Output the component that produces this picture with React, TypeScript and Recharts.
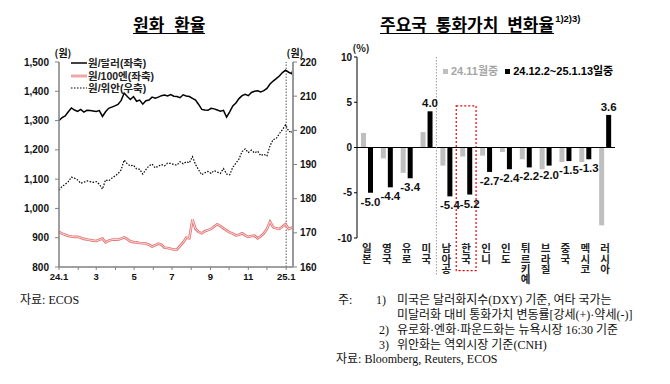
import {
  LineChart, Line, BarChart, Bar, XAxis, YAxis, Legend, LabelList, ReferenceLine, ReferenceArea,
} from "recharts"

const SANS = "'Liberation Sans', Arial, 'Noto Sans CJK KR', sans-serif"
const KR = "'Noto Sans CJK KR', 'Liberation Sans', sans-serif"
const SERIF = "'Liberation Serif', 'Times New Roman', 'Noto Sans CJK KR', serif"

// 원화 환율: 24.1.1 이후 경과일
const days = [
  0, 5, 10, 15, 20, 25, 30, 35, 40, 45, 50, 55, 60, 65, 70, 75, 80, 85, 90, 95,
  100, 105, 110, 115, 120, 125, 130, 135, 140, 145, 150, 155, 160, 165, 170, 175, 180, 185, 190, 195,
  200, 205, 210, 215, 220, 225, 230, 235, 240, 245, 250, 255, 260, 265, 270, 275, 280, 285, 290, 295,
  300, 305, 310, 315, 320, 325, 330, 335, 340, 345, 350, 355, 360, 365, 370, 375, 377,
]
const usdKrw = [
  1300, 1310, 1316, 1330, 1343, 1336, 1331, 1338, 1329, 1335, 1334, 1333, 1331, 1334, 1314, 1330, 1342, 1346, 1350, 1355,
  1368, 1394, 1382, 1372, 1382, 1366, 1370, 1356, 1368, 1370, 1380, 1376, 1380, 1385, 1387, 1384, 1389, 1383, 1382, 1378,
  1388, 1384, 1382, 1376, 1370, 1355, 1338, 1336, 1335, 1342, 1340, 1336, 1332, 1335, 1312, 1330, 1350, 1360, 1375, 1385,
  1390, 1385, 1396, 1400, 1402, 1398, 1402, 1410, 1425, 1435, 1443, 1452, 1464, 1472, 1465, 1460, 1474,
]
const jpyKrw = [
  920, 914, 910, 906, 904, 903, 903, 900, 896, 894, 892, 890, 889, 893, 897, 884, 890, 893, 894, 893,
  897, 901, 895, 888, 885, 884, 882, 881, 880, 876, 870, 874, 880, 876, 866, 865, 862, 860, 860, 872,
  884, 900, 898, 962, 930, 920, 915, 922, 926, 930, 938, 946, 940, 932, 925, 918, 914, 908, 910, 915,
  908, 903, 906, 907, 898, 905, 915, 930, 955, 936, 932, 930, 938, 946, 930, 934, 932,
]
const cnyKrw = [
  182.5, 183.6, 184.2, 185.0, 186.3, 186.0, 185.5, 184.5, 184.8, 185.2, 185.0, 184.8, 185.0, 184.2, 182.8, 185.5, 185.2, 186.0, 186.6, 187.3,
  188.4, 191.3, 190.2, 189.6, 189.8, 188.7, 188.6, 187.2, 188.5, 189.6, 190.1, 189.0, 189.5, 190.0, 189.6, 190.4, 190.3, 190.0, 189.8, 190.8,
  190.2, 190.8, 190.5, 192.3, 190.0, 188.4, 187.0, 187.6, 188.0, 187.4, 188.2, 187.8, 187.4, 188.8, 187.2, 187.0, 189.2, 190.4, 191.6, 193.8,
  194.6, 193.5, 194.2, 193.4, 193.9, 192.6, 193.0, 192.5, 195.5, 197.3, 197.6, 199.0, 200.2, 201.6, 199.8, 199.3, 200.6,
]
const monthTicks = [0, 31, 60, 91, 121, 152, 182, 213, 244, 274, 305, 335, 366]
const monthLabels = ["24.1", "", "3", "", "5", "", "7", "", "9", "", "11", "", "25.1"]
const leftTicks = [800, 900, 1000, 1100, 1200, 1300, 1400, 1500]
const rightTicks = [160, 170, 180, 190, 200, 210, 220]

// 주요국 통화가치 변화율(%)
const countries = ["일본", "영국", "유로", "미국", "남아공", "한국", "인니", "인도", "튀르키예", "브라질", "중국", "멕시코", "러시아"]
const chgNov = [1.6, -1.2, -2.8, 1.7, -2.0, -1.0, -0.9, -0.5, -1.3, -2.4, -1.6, -1.6, -8.6]
const chgRecent = [-5.0, -4.4, -3.4, 4.0, -5.4, -5.2, -2.7, -2.4, -2.2, -2.0, -1.5, -1.3, 3.6]
const pctTicks = [-10, -5, 0, 5, 10]

const rateData = days.map((t, i) => ({ t, usd: usdKrw[i], jpy: jpyKrw[i], cny: cnyKrw[i] }))
const fxData = countries.map((name, i) => ({ name, nov: chgNov[i], recent: chgRecent[i] }))

const tickStyle = { fontSize: 10, fill: "#111", fontFamily: SANS, fontWeight: 700 }
const JPY_OUTER = "#e57373"
const JPY_INNER = "#fde6e6"

function UnitLabel({ viewBox, text, side }: any) {
  const { x, y, width } = viewBox
  const cx = side === "left" ? x + width + 4 : x + 2
  return (
    <text x={cx} y={y - 5} textAnchor="middle" fontSize={10} fontWeight={700} fill="#111" fontFamily={KR}>
      {text}
    </text>
  )
}

function LineLegend() {
  const row = (sample: JSX.Element, label: string) => (
    <div style={{ display: "flex", alignItems: "center", height: 12.5 }}>
      <svg width={16} height={6} style={{ marginRight: 1 }}>{sample}</svg>
      <span>{label}</span>
    </div>
  )
  return (
    <div style={{ fontFamily: SANS, fontSize: 10.5, fontWeight: 700, color: "#222", whiteSpace: "nowrap", lineHeight: "12px" }}>
      {row(<line x1={0} x2={16} y1={3} y2={3} stroke="#000" strokeWidth={1.5} />, "원/달러(좌축)")}
      {row(
        <g>
          <line x1={0} x2={16} y1={3} y2={3} stroke={JPY_OUTER} strokeWidth={2.6} />
          <line x1={0} x2={16} y1={3} y2={3} stroke={JPY_INNER} strokeWidth={0.9} />
        </g>,
        "원/100엔(좌축)",
      )}
      {row(<line x1={0} x2={16} y1={3} y2={3} stroke="#000" strokeWidth={1.2} strokeDasharray="1.5 1.5" />, "원/위안(우축)")}
    </div>
  )
}

function RateChart() {
  return (
    <LineChart width={335} height={297} data={rateData} margin={{ top: 62, right: 0, bottom: 0, left: 0 }}>
      <XAxis
        dataKey="t"
        type="number"
        domain={[0, 377]}
        ticks={monthTicks}
        interval={0}
        tickFormatter={(v) => monthLabels[monthTicks.indexOf(v)] ?? ""}
        tick={{ ...tickStyle, fontSize: 9.5 }}
        axisLine={{ stroke: "#808080", strokeWidth: 1.5 }}
        tickLine={{ stroke: "#808080" }}
        tickSize={3}
        tickMargin={3}
        height={30}
      />
      <YAxis
        yAxisId="left"
        domain={[800, 1500]}
        ticks={leftTicks}
        width={59}
        tick={tickStyle}
        tickFormatter={(v) => v.toLocaleString("en-US")}
        axisLine={{ stroke: "#808080", strokeWidth: 1.5 }}
        tickLine={{ stroke: "#808080" }}
        tickSize={4}
        tickMargin={6}
        label={<UnitLabel text="(원)" side="left" />}
      />
      <YAxis
        yAxisId="right"
        orientation="right"
        domain={[160, 220]}
        ticks={rightTicks}
        width={42}
        tick={tickStyle}
        axisLine={{ stroke: "#999", strokeWidth: 2 }}
        tickLine={{ stroke: "#808080" }}
        tickSize={4}
        tickMargin={3}
        label={<UnitLabel text="(원)" side="right" />}
      />
      <ReferenceLine yAxisId="left" x={366} stroke="#555" strokeDasharray="1.5 1.5" />
      <Line yAxisId="left" dataKey="usd" stroke="#000" strokeWidth={1.5} dot={false} isAnimationActive={false} />
      <Line yAxisId="left" dataKey="jpy" stroke={JPY_OUTER} strokeWidth={2.6} dot={false} isAnimationActive={false} />
      <Line yAxisId="left" dataKey="jpy" stroke={JPY_INNER} strokeWidth={0.9} dot={false} isAnimationActive={false} legendType="none" />
      <Line yAxisId="right" dataKey="cny" stroke="#000" strokeWidth={1.2} strokeDasharray="1.5 1.5" dot={false} isAnimationActive={false} />
      <Legend
        verticalAlign="middle"
        align="center"
        layout="horizontal"
        wrapperStyle={{ top: 57, left: 71, width: "auto" }}
        content={<LineLegend />}
      />
    </LineChart>
  )
}

// 국가명은 세로쓰기
function CountryTick({ x, y, payload }: any) {
  return (
    <text
      x={x}
      y={y + 5}
      fontSize={10.5}
      fontWeight={700}
      fill="#222"
      fontFamily={KR}
      style={{ writingMode: "vertical-rl", textOrientation: "upright", letterSpacing: -0.2 }}
    >
      {payload.value}
    </text>
  )
}

function BarValueLabel(props: any) {
  const vb = props.viewBox ?? props
  const { x, y, width, height } = vb
  const value = Number(props.value)
  const top = Math.min(y, y + height)
  const bottom = Math.max(y, y + height)
  return (
    <text
      x={x + width / 2}
      y={value >= 0 ? top - 4 : bottom + 13}
      textAnchor="middle"
      fontSize={11.5}
      fontWeight={700}
      fill="#111"
      fontFamily={SANS}
    >
      {value.toFixed(1)}
    </text>
  )
}

function BarLegend() {
  return (
    <div style={{ display: "flex", alignItems: "center", whiteSpace: "nowrap", fontFamily: SANS, fontSize: 11, fontWeight: 700, lineHeight: "14px" }}>
      <span style={{ width: 5, height: 5, background: "#bfbfbf", marginRight: 3 }} />
      <span style={{ color: "#a6a6a6" }}>24.11월중</span>
      <span style={{ width: 5, height: 5, background: "#000", marginLeft: 7, marginRight: 3 }} />
      <span style={{ color: "#000" }}>24.12.2~25.1.13일중</span>
    </div>
  )
}

function FxChart() {
  return (
    <BarChart width={340} height={290} data={fxData} margin={{ top: 57, right: 55, bottom: 0, left: 0 }} barGap={2}>
      <XAxis dataKey="name" interval={0} axisLine={false} tickLine={false} tickSize={0} tickMargin={0} height={52} tick={<CountryTick />} />
      <YAxis
        domain={[-10, 10]}
        ticks={pctTicks}
        width={27}
        tick={tickStyle}
        axisLine={{ stroke: "#000" }}
        tickLine={{ stroke: "#000" }}
        tickSize={3}
        tickMargin={2}
        label={<UnitLabel text="(%)" side="left" />}
      />
      <ReferenceLine y={0} stroke="#000" />
      <ReferenceLine
        segment={[{ x: "남아공", y: 10 }, { x: "남아공", y: -14.2 }]}
        position="start"
        ifOverflow="visible"
        stroke="#999"
        strokeDasharray="1.5 1.5"
      />
      <ReferenceArea
        x1="한국"
        x2="한국"
        y1={-13.6}
        y2={4.6}
        ifOverflow="visible"
        fill="none"
        stroke="#e00"
        strokeWidth={1.2}
        strokeDasharray="2 2"
      />
      <Bar dataKey="nov" fill="#bfbfbf" barSize={5} isAnimationActive={false} />
      <Bar dataKey="recent" fill="#000" barSize={5} isAnimationActive={false}>
        <LabelList dataKey="recent" content={BarValueLabel} />
      </Bar>
      <Legend
        verticalAlign="middle"
        align="center"
        layout="horizontal"
        wrapperStyle={{ top: 64, left: 113, width: "auto" }}
        content={<BarLegend />}
      />
    </BarChart>
  )
}

const note = { position: "absolute" as const, fontFamily: SERIF, fontSize: 12, lineHeight: "15px", color: "#111", whiteSpace: "nowrap" as const }

export default function App() {
  return (
    <div style={{ position: "absolute", left: 0, top: 0, width: 670, height: 384, background: "#fff", overflow: "hidden" }}>
      <div style={{ position: "absolute", left: 0, top: 0 }}>
        <RateChart />
      </div>
      <div style={{ position: "absolute", left: 330, top: 0 }}>
        <FxChart />
      </div>

      <div style={{ position: "absolute", left: 133, top: 14, fontFamily: KR, fontSize: 17, fontWeight: 700, lineHeight: "19px", wordSpacing: 6, whiteSpace: "nowrap", borderBottom: "1.5px solid #000", color: "#000" }}>
        원화 환율
      </div>
      <div style={{ position: "absolute", left: 380, top: 14, fontFamily: KR, fontWeight: 700, color: "#000", whiteSpace: "nowrap", display: "flex", alignItems: "flex-start" }}>
        <span style={{ fontSize: 17, lineHeight: "19px", wordSpacing: 5, borderBottom: "1.5px solid #000" }}>주요국 통화가치 변화율</span>
        <span style={{ fontSize: 9.5, lineHeight: "10px", marginLeft: 1, fontFamily: SANS }}>1)2)3)</span>
      </div>

      <div style={{ ...note, left: 20, top: 293 }}>자료: ECOS</div>
      <div style={{ ...note, left: 338, top: 293 }}>주:</div>
      <div style={{ ...note, left: 376, top: 293 }}>1)</div>
      <div style={{ ...note, left: 397, top: 293 }}>미국은 달러화지수(DXY) 기준, 여타 국가는</div>
      <div style={{ ...note, left: 397, top: 308 }}>미달러화 대비 통화가치 변동률[강세(+)·약세(-)]</div>
      <div style={{ ...note, left: 379, top: 323 }}>2)</div>
      <div style={{ ...note, left: 397, top: 323 }}>유로화·엔화·파운드화는 뉴욕시장 16:30 기준</div>
      <div style={{ ...note, left: 379, top: 338 }}>3)</div>
      <div style={{ ...note, left: 397, top: 338 }}>위안화는 역외시장 기준(CNH)</div>
      <div style={{ ...note, left: 336, top: 352 }}>자료: Bloomberg, Reuters, ECOS</div>
    </div>
  )
}
